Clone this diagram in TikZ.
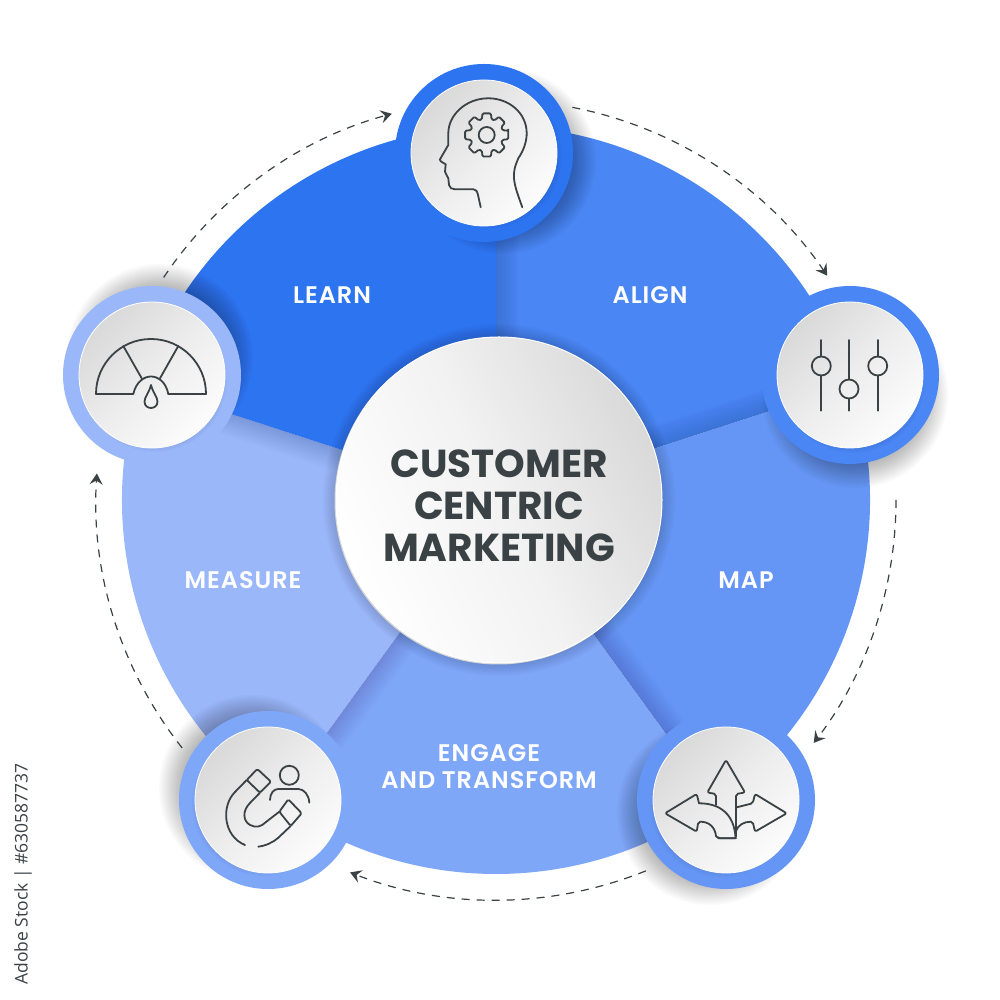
\documentclass[tikz,border=0pt]{standalone}
\usepackage{fontspec}
\setmainfont{Poppins}
\newfontfamily\captionfont{Open Sans}
\newfontfamily\labelfont{Poppins SemiBold}[LetterSpace=4]
\usetikzlibrary{arrows.meta}
\definecolor{cLearn}{HTML}{2D74F0}
\definecolor{cAlign}{HTML}{4A86F4}
\definecolor{cMap}{HTML}{6596F5}
\definecolor{cEngage}{HTML}{7FA7F8}
\definecolor{cMeasure}{HTML}{9AB7F9}
\definecolor{ink}{HTML}{3A4246}
\definecolor{discGray}{HTML}{D9D9D9}
\definecolor{discMid}{HTML}{EDEDED}
\definecolor{hubMid}{HTML}{F2F2F2}
\definecolor{discPale}{HTML}{FCFCFC}
\tikzset{
  ringnode/.style={circle,minimum size=178pt,inner sep=0pt},
  discnode/.style={circle,minimum size=146pt,inner sep=0pt,draw=white,line width=0.8pt,
    top color=discGray,bottom color=discPale,middle color=discMid,shading angle=45},
  hubnode/.style={circle,minimum size=326pt,inner sep=0pt,draw=white,line width=1pt,
    top color=discGray,bottom color=white,middle color=hubMid,shading angle=-65},
  seglabel/.style={text=white,font=\labelfont\fontsize{24}{27}\selectfont,align=center,inner sep=0pt},
  flow/.style={draw=ink,line width=1.2pt,dash pattern=on 8pt off 7pt,
    -{Stealth[length=11pt,width=13pt,inset=4pt]}},
  iconline/.style={draw=ink,line width=1.8pt,line join=round,line cap=round},
}
% softshadow: x y radius dx dy
\newcommand{\softshadow}[5]{%
  \foreach \k in {0,...,14}{%
    \fill[black,opacity=0.02] (#1+#4,#2+#5) circle[radius={#3+4-1.7*\k}];
  }%
}
% edgeshade: start angle, end angle of the wedge shaded, angle of its shaded edge
\newcommand{\edgeshade}[3]{%
  \begin{scope}
    \clip (pivot) -- ++(#1:374) arc[start angle=#1,end angle=#2,radius=374] -- cycle;
    \foreach \w in {3,6,...,45}{%
      \draw[black,opacity=0.006,line width=\w pt] (pivot) -- ++(#3:374);
    }
  \end{scope}%
}
\begin{document}
\begin{tikzpicture}[x=1pt,y=1pt]
\useasboundingbox (0,0) rectangle (1000,1000);
\fill[white] (0,0) rectangle (1000,1000);
\coordinate (pivot) at (496,500);
% pie wedges
\fill[cAlign]   (pivot) -- ++(90:374)  arc[start angle=90,end angle=18,radius=374] -- cycle;
\fill[cMap]     (pivot) -- ++(18:374)  arc[start angle=18,end angle=-54,radius=374] -- cycle;
\fill[cEngage]  (pivot) -- ++(-54:374) arc[start angle=-54,end angle=-126,radius=374] -- cycle;
\fill[cMeasure] (pivot) -- ++(234:374) arc[start angle=234,end angle=162,radius=374] -- cycle;
\fill[cLearn]   (pivot) -- ++(162:374) arc[start angle=162,end angle=90,radius=374] -- cycle;
% shadows along wedge edges
\edgeshade{90}{18}{90}
\edgeshade{90}{18}{18}
\edgeshade{18}{-54}{-54}
\edgeshade{-54}{-126}{234}
\edgeshade{234}{162}{162}
% shadows
\softshadow{484}{847}{89}{19}{-8}
\softshadow{850}{625}{89}{5}{-20}
\softshadow{726}{200}{89}{-16}{-12}
\softshadow{268}{200}{89}{-16}{12}
\softshadow{152}{625}{89}{8}{18}
\softshadow{499}{500}{172}{0}{0}
% rings
\node[ringnode,fill=cLearn]   (ringLearn)   at (484,847) {};
\node[ringnode,fill=cAlign]   (ringAlign)   at (850,625) {};
\node[ringnode,fill=cMap]     (ringMap)     at (726,200) {};
\node[ringnode,fill=cEngage]  (ringEngage)  at (268,200) {};
\node[ringnode,fill=cMeasure] (ringMeasure) at (152,625) {};
% discs
\softshadow{484}{847}{68}{6}{-3}
\softshadow{850}{625}{68}{3}{-6}
\softshadow{726}{200}{68}{-4}{-5}
\softshadow{268}{200}{68}{-4}{-4}
\softshadow{152}{625}{68}{3}{-5}
\node[discnode] (discLearn)   at (484,847) {};
\node[discnode] (discAlign)   at (850,625) {};
\node[discnode] (discMap)     at (726,200) {};
\node[discnode] (discEngage)  at (268,200) {};
\node[discnode] (discMeasure) at (152,625) {};
% hub
\fill[black!16] (498,499) circle[radius=163.5];
\node[hubnode] (hub) at (499,500) {};
\node[text=ink,font=\fontsize{39}{42}\selectfont\bfseries,align=center,inner sep=0pt] (hubText) at (499,494)
  {CUSTOMER\\CENTRIC\\MARKETING};
% labels
\node[seglabel] (lblLearn)   at (332,705) {LEARN};
\node[seglabel] (lblAlign)   at (650,705) {ALIGN};
\node[seglabel] (lblMap)     at (746,420) {MAP};
\node[seglabel] (lblMeasure) at (243,420) {MEASURE};
\node[seglabel] (lblEngage)  at (489,233) {ENGAGE\\AND TRANSFORM};
% credit line
\node[rotate=90,text=ink,font=\captionfont\fontsize{17.5}{20}\selectfont,inner sep=0pt] (credit) at (23,126) {Adobe Stock | \#630587737};
% flow arcs
\coordinate (f1) at ([shift={(146.2:400)}]pivot);
\coordinate (f2) at ([shift={(79:400)}]pivot);
\coordinate (f3) at ([shift={(0:400)}]pivot);
\coordinate (f4) at ([shift={(-68:400)}]pivot);
\coordinate (f5) at ([shift={(218.3:400)}]pivot);
\draw[flow] (f1) arc[start angle=146.2,end angle=105.1,radius=400];
\draw[flow] (f2) arc[start angle=79,end angle=34.1,radius=400];
\draw[flow] (f3) arc[start angle=0,end angle=-37.4,radius=400];
\draw[flow] (f4) arc[start angle=-68,end angle=-111.4,radius=400];
\draw[flow] (f5) arc[start angle=218.3,end angle=176.2,radius=400];
% head icon
\begin{scope}[shift={(discLearn.center)},yscale=-1,iconline]
  \draw (38.3,54.3) .. controls (34,42) and (29,30) .. (30,20.3) .. controls (30.5,13) and (33,9) .. (34.3,5.3)
    .. controls (40,-3) and (42.7,-12) .. (42.7,-19.7) .. controls (42.7,-40) and (25,-54.7) .. (4.3,-54.7)
    .. controls (-18,-54.7) and (-35.7,-38) .. (-35.7,-19.7) -- (-35.7,-8) -- (-44,6.3)
    .. controls (-44.5,8) and (-41,10) .. (-38.3,11.3) -- (-39,18.7) .. controls (-39,21) and (-36,23) .. (-35.7,25.3)
    -- (-35,32) .. controls (-34.5,35) and (-32,36.3) .. (-29,36.3) -- (-10.7,36.3)
    .. controls (-8,36.3) and (-7,38) .. (-6,42) -- (-3.3,54.3);
  \begin{scope}[shift={(2.7,-18)}]
    \draw (0,0) circle[radius=8];
    \draw[rounded corners=1.2pt] (-11:22)
      \foreach \a in {0,45,...,315}{ -- (\a-11:22) -- (\a+11:22) -- (\a+17:16.5) -- (\a+28:16.5) } -- cycle;
  \end{scope}
\end{scope}
% slider icon
\begin{scope}[shift={(discAlign.center)},yscale=-1,iconline]
  \draw (-28.7,-35) -- (-28.7,-18.5) (-28.7,0.5) -- (-28.7,35.7);
  \draw (-1,-35) -- (-1,4.5) (-1,23.5) -- (-1,35.7);
  \draw (27.7,-35) -- (27.7,-18.5) (27.7,0.5) -- (27.7,35.7);
  \draw (-28.7,-9) circle[radius=9.5];
  \draw (-1,14) circle[radius=9.5];
  \draw (27.7,-9) circle[radius=9.5];
\end{scope}
% three-way arrow icon
\begin{scope}[shift={(discMap.center)},yscale=-1,iconline]
  \draw[rounded corners=2pt] (-10,5) -- (-10,-6) -- (-18.7,-7.5) -- (0,-40) -- (19,-7.5) -- (10,-6) -- (10,38.3) -- (-7.7,38.3);
  \draw[rounded corners=2pt] (10,38.3) -- (-8,38.3) -- (-10,36);
  \draw[rounded corners=2pt] (-10,36) .. controls (-11,27) and (-17,21.7) .. (-27.7,21.7) -- (-29.3,31.7) -- (-61,13.3) -- (-29.3,-6) -- (-27,3.3);
  \draw (-27,3.3) .. controls (-5,3.3) and (8,15) .. (9.5,37);
  \draw[rounded corners=2pt] (10.7,7.3) -- (26.7,3.3) -- (29,-6) -- (60.7,13.3) -- (29,31.7) -- (26.7,21.7) .. controls (18,21.7) and (12,25) .. (10,31);
\end{scope}
% magnet icon
\begin{scope}[shift={(discEngage.center)},yscale=-1,iconline]
  \draw[rounded corners=1.5pt] (-10.7,-31) -- (3,-18.3) -- (-8,-7.3) -- (-21.3,-20) -- cycle;
  \draw[rounded corners=1.5pt] (20.3,-0.7) -- (33.7,13.3) -- (22.7,26) -- (11.3,11.7) -- cycle;
  \draw (-21.3,-20) -- (-33,-8) .. controls (-47,6) and (-45,36) .. (-23,45);
  \draw (22.7,26) -- (10,38) .. controls (4,43) and (-3,46) .. (-9.7,46.7);
  \draw (-8,-7.3) -- (-18,3) .. controls (-26,11) and (-25,21) .. (-18,25) .. controls (-12,28) and (-7,27) .. (-2,22) -- (11.3,11.7);
  \draw (21.3,-24.7) circle[radius=9.5];
  \draw (2,0) .. controls (2,-7) and (6,-11) .. (10.3,-11) -- (30.3,-11) .. controls (36,-11) and (41,-5) .. (41.3,2.7);
\end{scope}
% gauge icon
\begin{scope}[shift={(discMeasure.center)},yscale=-1,iconline]
  \draw (-18.7,19) -- (-56,19) arc[start angle=180,end angle=360,radius=55] -- (16.3,19);
  \draw (-18.7,19) .. controls (-16,7) and (-8,1.5) .. (-1,1.5) .. controls (6,1.5) and (14,7) .. (16.3,19);
  \draw (-28.7,-29) -- (-10.3,3.3);
  \draw (26.3,-29) -- (8,3.3);
  \draw (-1,10) .. controls (-3,18) and (-7.5,22) .. (-7.5,26.7) .. controls (-7.5,31) and (-4,33) .. (-1,33)
     .. controls (2,33) and (5.5,31) .. (5.5,26.7) .. controls (5.5,22) and (1,18) .. (-1,10) -- cycle;
\end{scope}
\end{tikzpicture}
\end{document}
